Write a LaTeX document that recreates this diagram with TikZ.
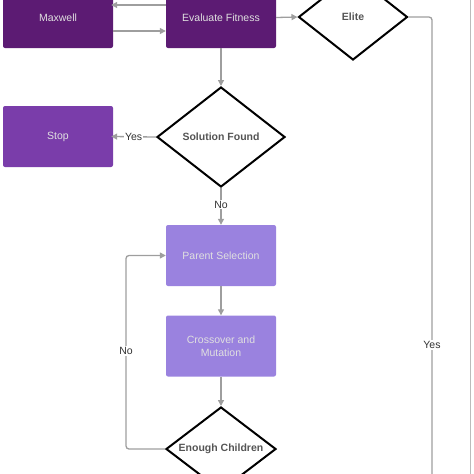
\documentclass[tikz,border=0pt]{standalone}
\usepackage{fontspec}
\setmainfont{Liberation Sans}
\usetikzlibrary{shapes.geometric,arrows.meta}
\definecolor{darkp}{HTML}{5C1B73}
\definecolor{midp}{HTML}{7A3DAA}
\definecolor{lightp}{HTML}{9A82DF}
\definecolor{conn}{HTML}{9E9E9E}
\definecolor{dtext}{HTML}{555555}
\begin{document}
\begin{tikzpicture}[x=1pt,y=-1pt,
  box/.style={rectangle,rounded corners=2pt,minimum width=110pt,minimum height=61pt,inner sep=0pt,text=white!88!black,font=\fontsize{10.5}{12.5}\selectfont,align=center},
  dia/.style={diamond,draw=black,line width=2pt,fill=white,inner sep=0pt,text=dtext,font=\bfseries\fontsize{10.5}{12.5}\selectfont},
  conn/.style={draw=conn,line width=1.3pt,-{Triangle[width=6pt,length=6pt]}},
  plain/.style={draw=conn,line width=1.3pt,rounded corners=3pt},
  lab/.style={fill=white,inner sep=1pt,text=black!80,font=\fontsize{10.5}{12.5}\selectfont}]
\useasboundingbox (0,0) rectangle (474,474);
\clip (0,0) rectangle (474,474);
\node[box,fill=darkp] (max) at (58,17.5) {Maxwell};
\node[box,fill=darkp] (eval) at (221,17.5) {Evaluate Fitness};
\node[dia,minimum width=109pt,minimum height=86pt,aspect=1.27] (elite) at (353,17) {Elite};
\node[dia,minimum width=128pt,minimum height=100pt,aspect=1.28] (sol) at (221,137) {Solution Found};
\node[box,fill=midp] (stop) at (58,136.5) {Stop};
\node[box,fill=lightp] (par) at (221,255.5) {Parent Selection};
\node[box,fill=lightp] (cross) at (221,346) {Crossover and\\Mutation};
\node[dia,minimum width=110pt,minimum height=84pt,aspect=1.31] (enough) at (221,449) {Enough Children};
\coordinate (ybot) at (432,480);
\coordinate (frt) at (470,0);
\coordinate (frb) at (470,474);
\coordinate (loopc) at (126,255.5);
\draw[conn] ([yshift=12.5pt]eval.west) -- ([yshift=12.5pt,xshift=-2pt]max.east);
\draw[conn] ([yshift=-13.5pt]max.east) -- ([yshift=-13.5pt]eval.west);
\draw[conn] (eval.east) -- (elite.west);
\draw[conn] (eval.south) -- (sol.north);
\draw[conn] (sol.west) -- node[lab]{Yes} ([xshift=-2pt]stop.east);
\draw[conn] (sol.south) -- node[lab,pos=0.45]{No} (par.north);
\draw[conn] (par.south) -- (cross.north);
\draw[conn] (cross.south) -- (enough.north);
\draw[plain] (elite.east) -| (ybot);
\node[lab] (yes2) at (432,345) {Yes};
\draw[plain,-{Triangle[width=6pt,length=6pt]}] (enough.west) -| (loopc) -- (par.west);
\node[lab] (no2) at (126,351) {No};
\draw[draw=conn!70,line width=1pt] (frt) -- (frb);
\end{tikzpicture}
\end{document}
